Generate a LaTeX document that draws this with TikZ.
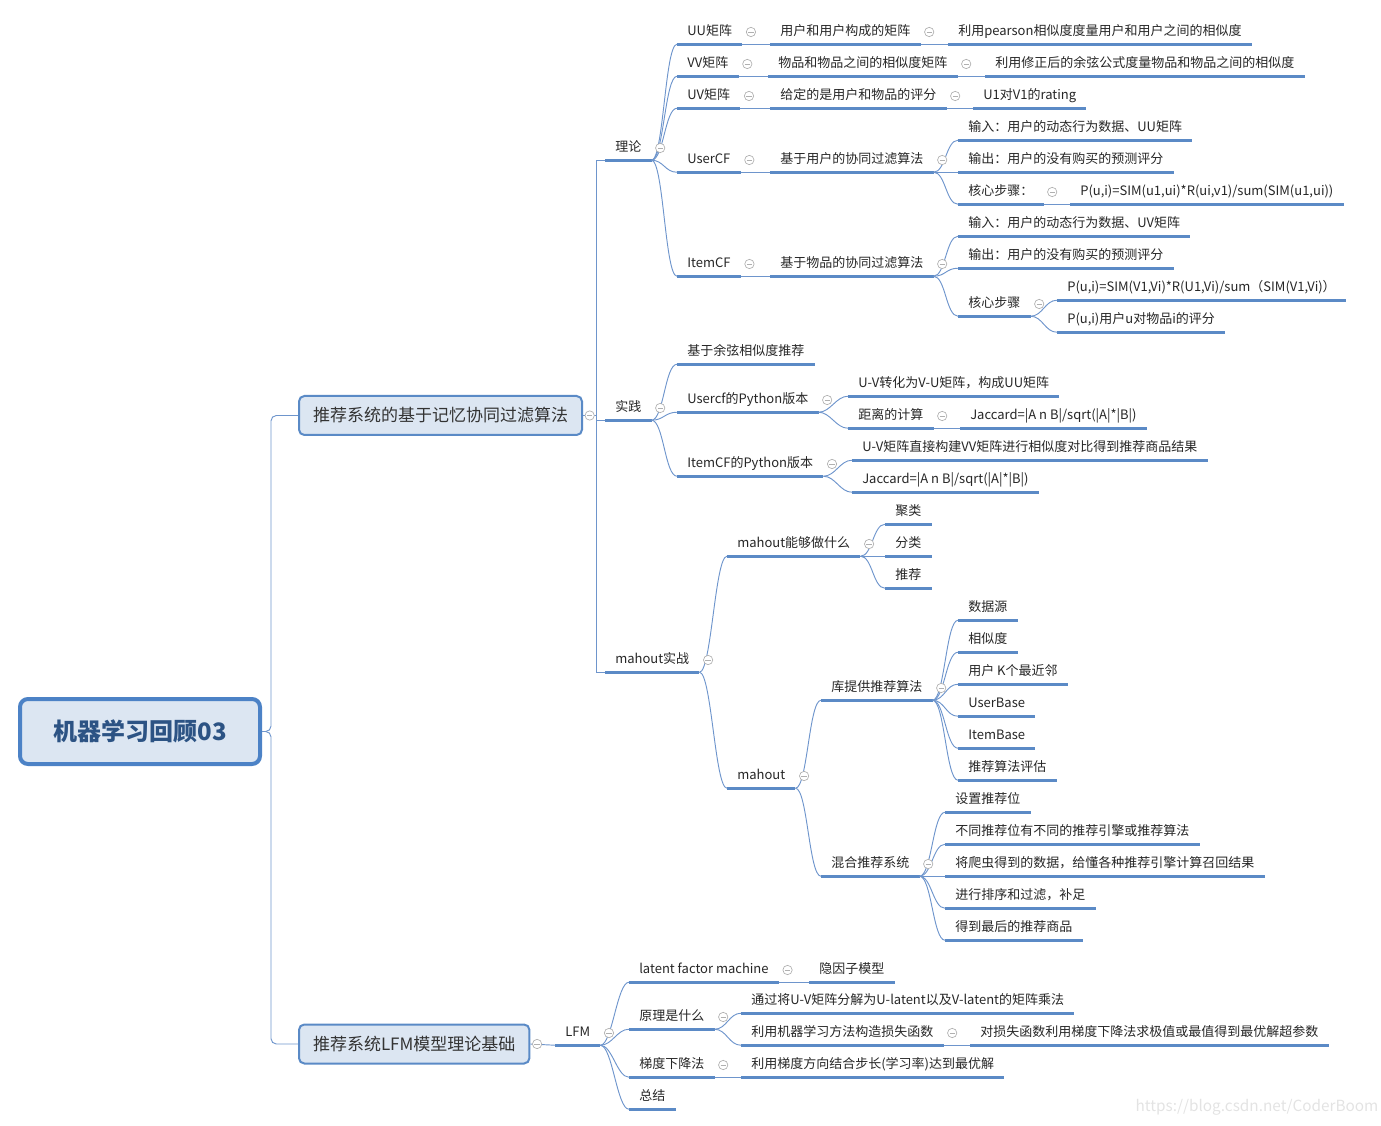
\documentclass[tikz,border=0pt]{standalone}
\usepackage{fontspec}
\setmainfont{Noto Sans CJK SC}

\definecolor{lineblue}{HTML}{5B8AC6}
\definecolor{linkblue}{HTML}{6E95CC}
\definecolor{boxfill}{HTML}{DCE6F2}
\definecolor{boxline}{HTML}{5A8AC6}
\definecolor{rootline}{HTML}{4C82C6}
\definecolor{roottext}{HTML}{2C5384}
\definecolor{foldgray}{HTML}{B0B0B0}

\tikzset{
  topic/.style={anchor=west, yshift=-1.5pt, inner xsep=7.5pt, inner ysep=4.1pt, text height=7.5pt, text depth=2.25pt,
    font=\fontsize{9.75}{11}\selectfont, text=black!85},
  uline/.style={draw=lineblue, line width=2.5pt},
  link/.style={draw=linkblue, line width=0.7pt},
  branch/.style={to path={.. controls +(12,0) and +(-12,0) .. (\tikztotarget)}},
  fold/.style={circle, draw=foldgray, fill=white, line width=0.5pt, minimum size=7pt, inner sep=0pt,
    path picture={\draw[foldgray, line width=0.5pt] ([xshift=-2pt]path picture bounding box.center) -- ([xshift=2pt]path picture bounding box.center);}},
  mainbox/.style={anchor=west, draw=boxline, line width=1.5pt, fill=boxfill, rounded corners=4pt,
    inner xsep=10.5pt, minimum height=29.25pt, font=\fontsize{12.75}{14}\selectfont, text=black!80},
  rootbox/.style={draw=rootline, line width=3pt, fill=boxfill, rounded corners=6pt,
    minimum width=180pt, minimum height=48.75pt, font=\fontsize{18}{20}\selectfont\bfseries, text=roottext},
}

\begin{document}
\begin{tikzpicture}[x=0.75pt, y=-0.75pt]
    \useasboundingbox (0,0) rectangle (1381,1126);

    % Root and the two main topics
    \node[rootbox] (root) at (140,731.5) {机器学习回顾03};
    \node[mainbox] (m1) at (298,415.5) {推荐系统的基于记忆协同过滤算法};
    \node[mainbox] (m2) at (298,1044) {推荐系统LFM模型理论基础};

    % Memory based CF: theory
    \node[topic] (lilun) at (605,146) {理论};
    \node[topic] (shijian) at (605,406) {实践};
    \node[topic] (mhzs) at (605,658) {mahout实战};

    \node[topic] (uu) at (677,30) {UU矩阵};
    \node[topic] (vv) at (677,62) {VV矩阵};
    \node[topic] (uv) at (677,94) {UV矩阵};
    \node[topic] (ucf) at (677,158) {UserCF};
    \node[topic] (icf) at (677,262) {ItemCF};

    \node[topic] (uum) at (770,30) {用户和用户构成的矩阵};
    \node[topic] (uumd) at (948,30) {利用pearson相似度度量用户和用户之间的相似度};
    \node[topic] (vvm) at (768,62) {物品和物品之间的相似度矩阵};
    \node[topic] (vvmd) at (985,62) {利用修正后的余弦公式度量物品和物品之间的相似度};
    \node[topic] (uvm) at (770,94) {给定的是用户和物品的评分};
    \node[topic] (uvmd) at (973,94) {U1对V1的rating};
    \node[topic] (ucfa) at (770,158) {基于用户的协同过滤算法};
    \node[topic] (ucfin) at (958,126) {输入：用户的动态行为数据、UU矩阵};
    \node[topic] (ucfout) at (958,158) {输出：用户的没有购买的预测评分};
    \node[topic] (ucfcore) at (958,190) {核心步骤：};
    \node[topic] (ucff) at (1070,190) {P(u,i)=SIM(u1,ui)*R(ui,v1)/sum(SIM(u1,ui))};
    \node[topic] (icfa) at (770,262) {基于物品的协同过滤算法};
    \node[topic] (icfin) at (958,222) {输入：用户的动态行为数据、UV矩阵};
    \node[topic] (icfout) at (958,254) {输出：用户的没有购买的预测评分};
    \node[topic] (icfcore) at (958,302) {核心步骤};
    \node[topic] (icff) at (1057,286) {P(u,i)=SIM(V1,Vi)*R(U1,Vi)/sum（SIM(V1,Vi)）};
    \node[topic] (icfp) at (1057,318) {P(u,i)用户u对物品i的评分};

    % Memory based CF: practice
    \node[topic] (cos) at (677,350) {基于余弦相似度推荐};
    \node[topic] (ucpy) at (677,398) {Usercf的Python版本};
    \node[topic] (uvvu) at (848,382) {U-V转化为V-U矩阵，构成UU矩阵};
    \node[topic] (dist) at (848,414) {距离的计算};
    \node[topic] (jac1) at (960,414) {Jaccard=|A n B|/sqrt(|A|*|B|)};
    \node[topic] (icpy) at (677,462) {ItemCF的Python版本};
    \node[topic] (uvvv) at (852,446) {U-V矩阵直接构建VV矩阵进行相似度对比得到推荐商品结果};
    \node[topic] (jac2) at (852,478) {Jaccard=|A n B|/sqrt(|A|*|B|)};

    % mahout
    \node[topic] (mcan) at (727,542) {mahout能够做什么};
    \node[topic] (jl) at (885,510) {聚类};
    \node[topic] (fl) at (885,542) {分类};
    \node[topic] (tj) at (885,574) {推荐};
    \node[topic] (mh) at (727,774) {mahout};
    \node[topic] (lib) at (821,686) {库提供推荐算法};
    \node[topic] (sjy) at (958,606) {数据源};
    \node[topic] (xsd) at (958,638) {相似度};
    \node[topic] (knn) at (958,670) {用户 K个最近邻};
    \node[topic] (ub) at (958,702) {UserBase};
    \node[topic] (ib) at (958,734) {ItemBase};
    \node[topic] (pg) at (958,766) {推荐算法评估};
    \node[topic] (hybrid) at (821,862) {混合推荐系统};
    \node[topic] (h1) at (945,798) {设置推荐位};
    \node[topic] (h2) at (945,830) {不同推荐位有不同的推荐引擎或推荐算法};
    \node[topic] (h3) at (945,862) {将爬虫得到的数据，给懂各种推荐引擎计算召回结果};
    \node[topic] (h4) at (945,894) {进行排序和过滤，补足};
    \node[topic] (h5) at (945,926) {得到最后的推荐商品};

    % LFM
    \node[topic] (lfm) at (555,1031) {LFM};
    \node[topic] (lfmach) at (629,968) {latent factor machine};
    \node[topic] (yyz) at (809,968) {隐因子模型};
    \node[topic] (yl) at (629,1015) {原理是什么};
    \node[topic] (yl1) at (741,999) {通过将U-V矩阵分解为U-latent以及V-latent的矩阵乘法};
    \node[topic] (yl2) at (741,1031) {利用机器学习方法构造损失函数};
    \node[topic] (yl2a) at (970,1031) {对损失函数利用梯度下降法求极值或最值得到最优解超参数};
    \node[topic] (td) at (629,1063) {梯度下降法};
    \node[topic] (td1) at (741,1063) {利用梯度方向结合步长(学习率)达到最优解};
    \node[topic] (zj) at (629,1095) {总结};

    % Connectors from the boxes
    \draw[link, rounded corners=4pt] (root.east) -- ++(9,0) |- (m1.west);
    \draw[link, rounded corners=4pt] (root.east) -- ++(9,0) |- (m2.west);
    \foreach \c in {lilun,shijian,mhzs} {
        \draw[link] (m1.east) -- ++(13,0) |- (\c.south west);
        \draw[uline] (\c.south west) -- (\c.south east);
    }
    \draw[link] (m2.east) -- (lfm.south west);
    \draw[uline] (lfm.south west) -- (lfm.south east);

    % Connectors between topics, with the underline of each child
    \foreach \a/\b in {lilun/uu, lilun/vv, lilun/uv, lilun/ucf, lilun/icf,
        uu/uum, uum/uumd, vv/vvm, vvm/vvmd, uv/uvm, uvm/uvmd,
        ucf/ucfa, ucfa/ucfin, ucfa/ucfout, ucfa/ucfcore, ucfcore/ucff,
        icf/icfa, icfa/icfin, icfa/icfout, icfa/icfcore, icfcore/icff, icfcore/icfp,
        shijian/cos, shijian/ucpy, shijian/icpy, ucpy/uvvu, ucpy/dist, dist/jac1, icpy/uvvv, icpy/jac2,
        mhzs/mcan, mhzs/mh, mcan/jl, mcan/fl, mcan/tj, mh/lib, mh/hybrid,
        lib/sjy, lib/xsd, lib/knn, lib/ub, lib/ib, lib/pg,
        hybrid/h1, hybrid/h2, hybrid/h3, hybrid/h4, hybrid/h5,
        lfm/lfmach, lfm/yl, lfm/td, lfm/zj, lfmach/yyz, yl/yl1, yl/yl2, yl2/yl2a, td/td1} {
        \draw[link] (\a.south east) to[branch] (\b.south west);
        \draw[uline] (\b.south west) -- (\b.south east);
    }

    % Fold markers
    \node[fold] (m1-f) at ([xshift=5pt]m1.east) {};
    \node[fold] (m2-f) at ([xshift=5pt]m2.east) {};
    \foreach \p in {lilun, shijian, mhzs, uu, uum, vv, vvm, uv, uvm, ucf, ucfa, ucfcore,
        icf, icfa, icfcore, ucpy, dist, icpy, mcan, mh, lib, hybrid, lfm, lfmach, yl, yl2, td}
        \node[fold] (\p-f) at ([xshift=6.5pt]\p.east) {};

    % Watermark
    \node[font=\fontsize{11.5}{13}\selectfont, text=black!11] (wm) at (1257,1107) {https://blog.csdn.net/CoderBoom};
\end{tikzpicture}
\end{document}
